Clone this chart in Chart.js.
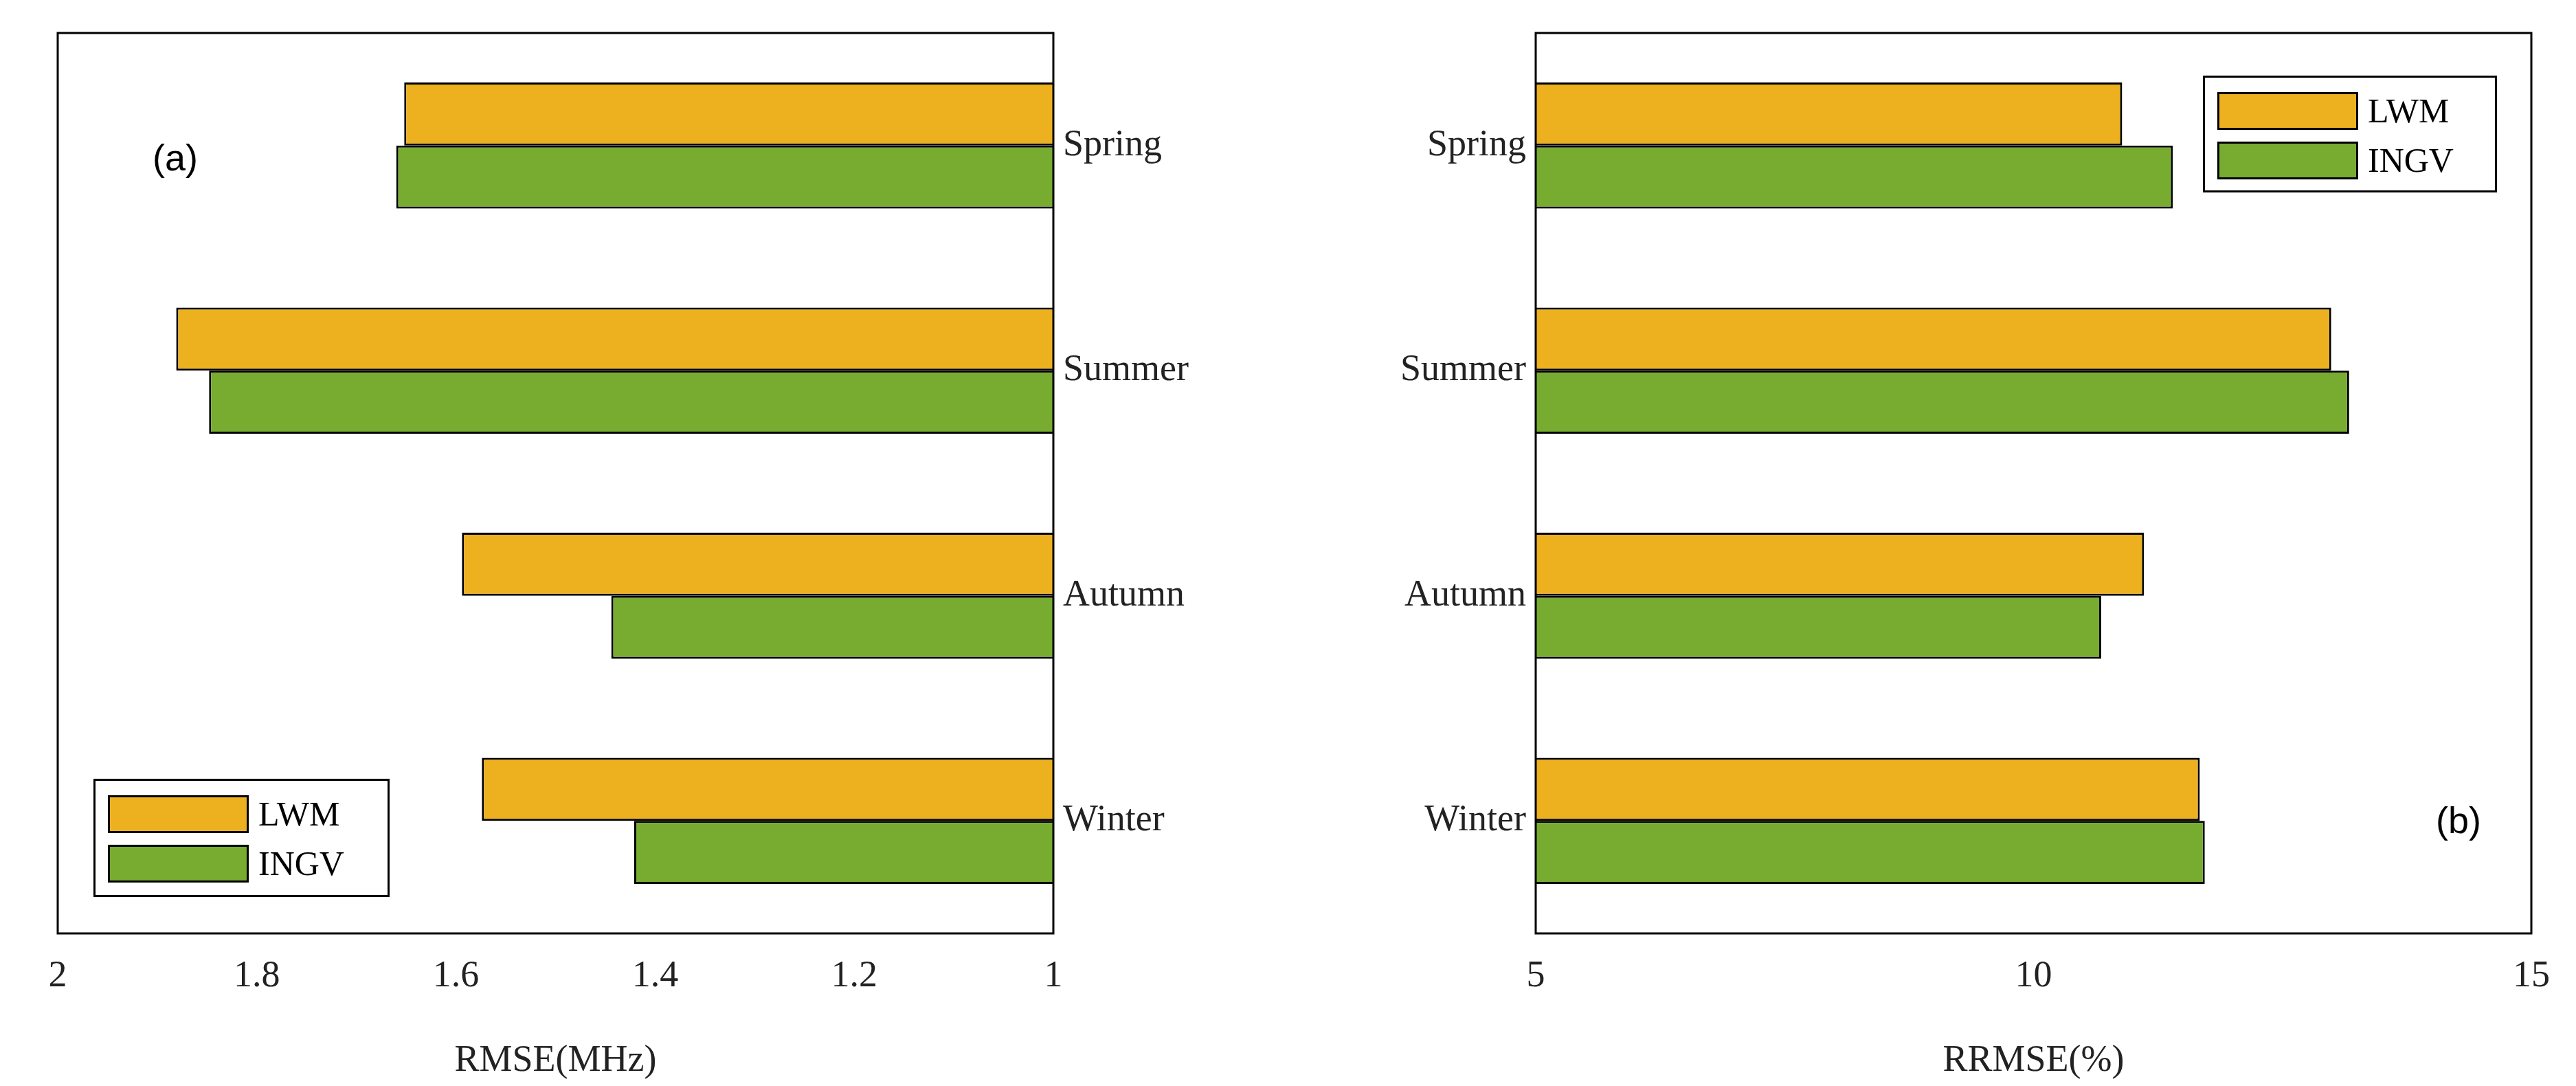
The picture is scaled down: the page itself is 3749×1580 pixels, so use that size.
<!DOCTYPE html>
<html><head><meta charset="utf-8">
<script src="https://cdn.jsdelivr.net/npm/chart.js@4"></script>
<style>
body{margin:0;background:#fff;width:3749px;height:1580px;position:relative;overflow:hidden;font-family:"Liberation Serif";}
.cv{position:absolute;top:0;height:1580px}
.leg{position:absolute;border:3px solid #000;background:#fff;box-sizing:border-box;padding:12px 18px}
.row{display:flex;align-items:center;height:72px;font-size:50px}
.sw{width:205px;height:55px;border:3px solid #000;margin-right:14px;box-sizing:border-box}
.tag{position:absolute;font-family:"Liberation Sans";font-size:54px}
</style></head><body>
<div class="cv" style="left:0;width:1900px"><canvas id="ca"></canvas></div>
<div class="cv" style="left:1900px;width:1849px"><canvas id="cb"></canvas></div>
<div class="leg" style="left:136px;top:1133px;width:431px;height:172px">
 <div class="row"><div class="sw" style="background:#EDB120"></div>LWM</div>
 <div class="row"><div class="sw" style="background:#77AC30"></div>INGV</div></div>
<div class="leg" style="left:3206px;top:110px;width:428px;height:170px">
 <div class="row"><div class="sw" style="background:#EDB120"></div>LWM</div>
 <div class="row"><div class="sw" style="background:#77AC30"></div>INGV</div></div>
<div class="tag" style="left:222px;top:198px">(a)</div>
<div class="tag" style="left:3545px;top:1162px">(b)</div>
<script>
const seasons = ['Spring', 'Summer', 'Autumn', 'Winter'];
const rmseLWM = [1.652, 1.881, 1.594, 1.574];
const rmseINGV = [1.660, 1.848, 1.444, 1.421];
const rrmseLWM = [10.89, 12.99, 11.11, 11.67];
const rrmseINGV = [11.40, 13.17, 10.68, 11.72];

const font = {family: 'Liberation Serif', size: 54};
const frame = {
    id: 'frame',
    afterDraw(chart) {
        const a = chart.chartArea, c = chart.ctx;
        c.save(); c.strokeStyle = '#000'; c.lineWidth = 3;
        c.strokeRect(a.left, a.top, a.right - a.left, a.bottom - a.top);
        c.restore();
    }
};

function makeChart(id, lwm, ingv, xopts, yPos, yWidth, padding, title) {
    Chart.defaults.font = font;
    new Chart(document.getElementById(id), {
        type: 'bar',
        data: {
            labels: seasons,
            datasets: [
                {label: 'LWM', data: lwm, backgroundColor: '#EDB120', borderColor: '#000', borderWidth: 3, borderSkipped: false},
                {label: 'INGV', data: ingv, backgroundColor: '#77AC30', borderColor: '#000', borderWidth: 3, borderSkipped: false}
            ]
        },
        options: {
            indexAxis: 'y', responsive: true, maintainAspectRatio: false, animation: false,
            categoryPercentage: 0.56, barPercentage: 1,
            layout: {padding: padding},
            plugins: {legend: {display: false}, tooltip: {enabled: false}},
            scales: {
                x: Object.assign({
                    grid: {display: false, drawTicks: false}, border: {display: false},
                    ticks: {color: '#222', font: font, padding: 30, maxRotation: 0},
                    title: {display: true, text: title, color: '#222', font: font, padding: {top: 0}},
                    afterFit(s) { s.height = 222; }
                }, xopts),
                y: {
                    position: yPos,
                    grid: {display: false, drawTicks: false}, border: {display: false},
                    ticks: {color: '#222', font: font, padding: 14},
                    afterFit(s) { s.width = yWidth; }
                }
            }
        },
        plugins: [frame]
    });
}

makeChart('ca', rmseLWM, rmseINGV, {min: 1, max: 2, reverse: true, ticks: {color: '#222', font: font, padding: 30, stepSize: 0.2, callback: v => (Math.round(v * 10) / 10).toString()}},
    'right', 367, {left: 84, top: 48, right: 0}, 'RMSE(MHz)');
makeChart('cb', rrmseLWM, rrmseINGV, {min: 5, max: 15, ticks: {color: '#222', font: font, padding: 30, stepSize: 5}},
    'left', 335, {left: 0, top: 48, right: 65}, 'RRMSE(%)');
</script>
</body></html>
